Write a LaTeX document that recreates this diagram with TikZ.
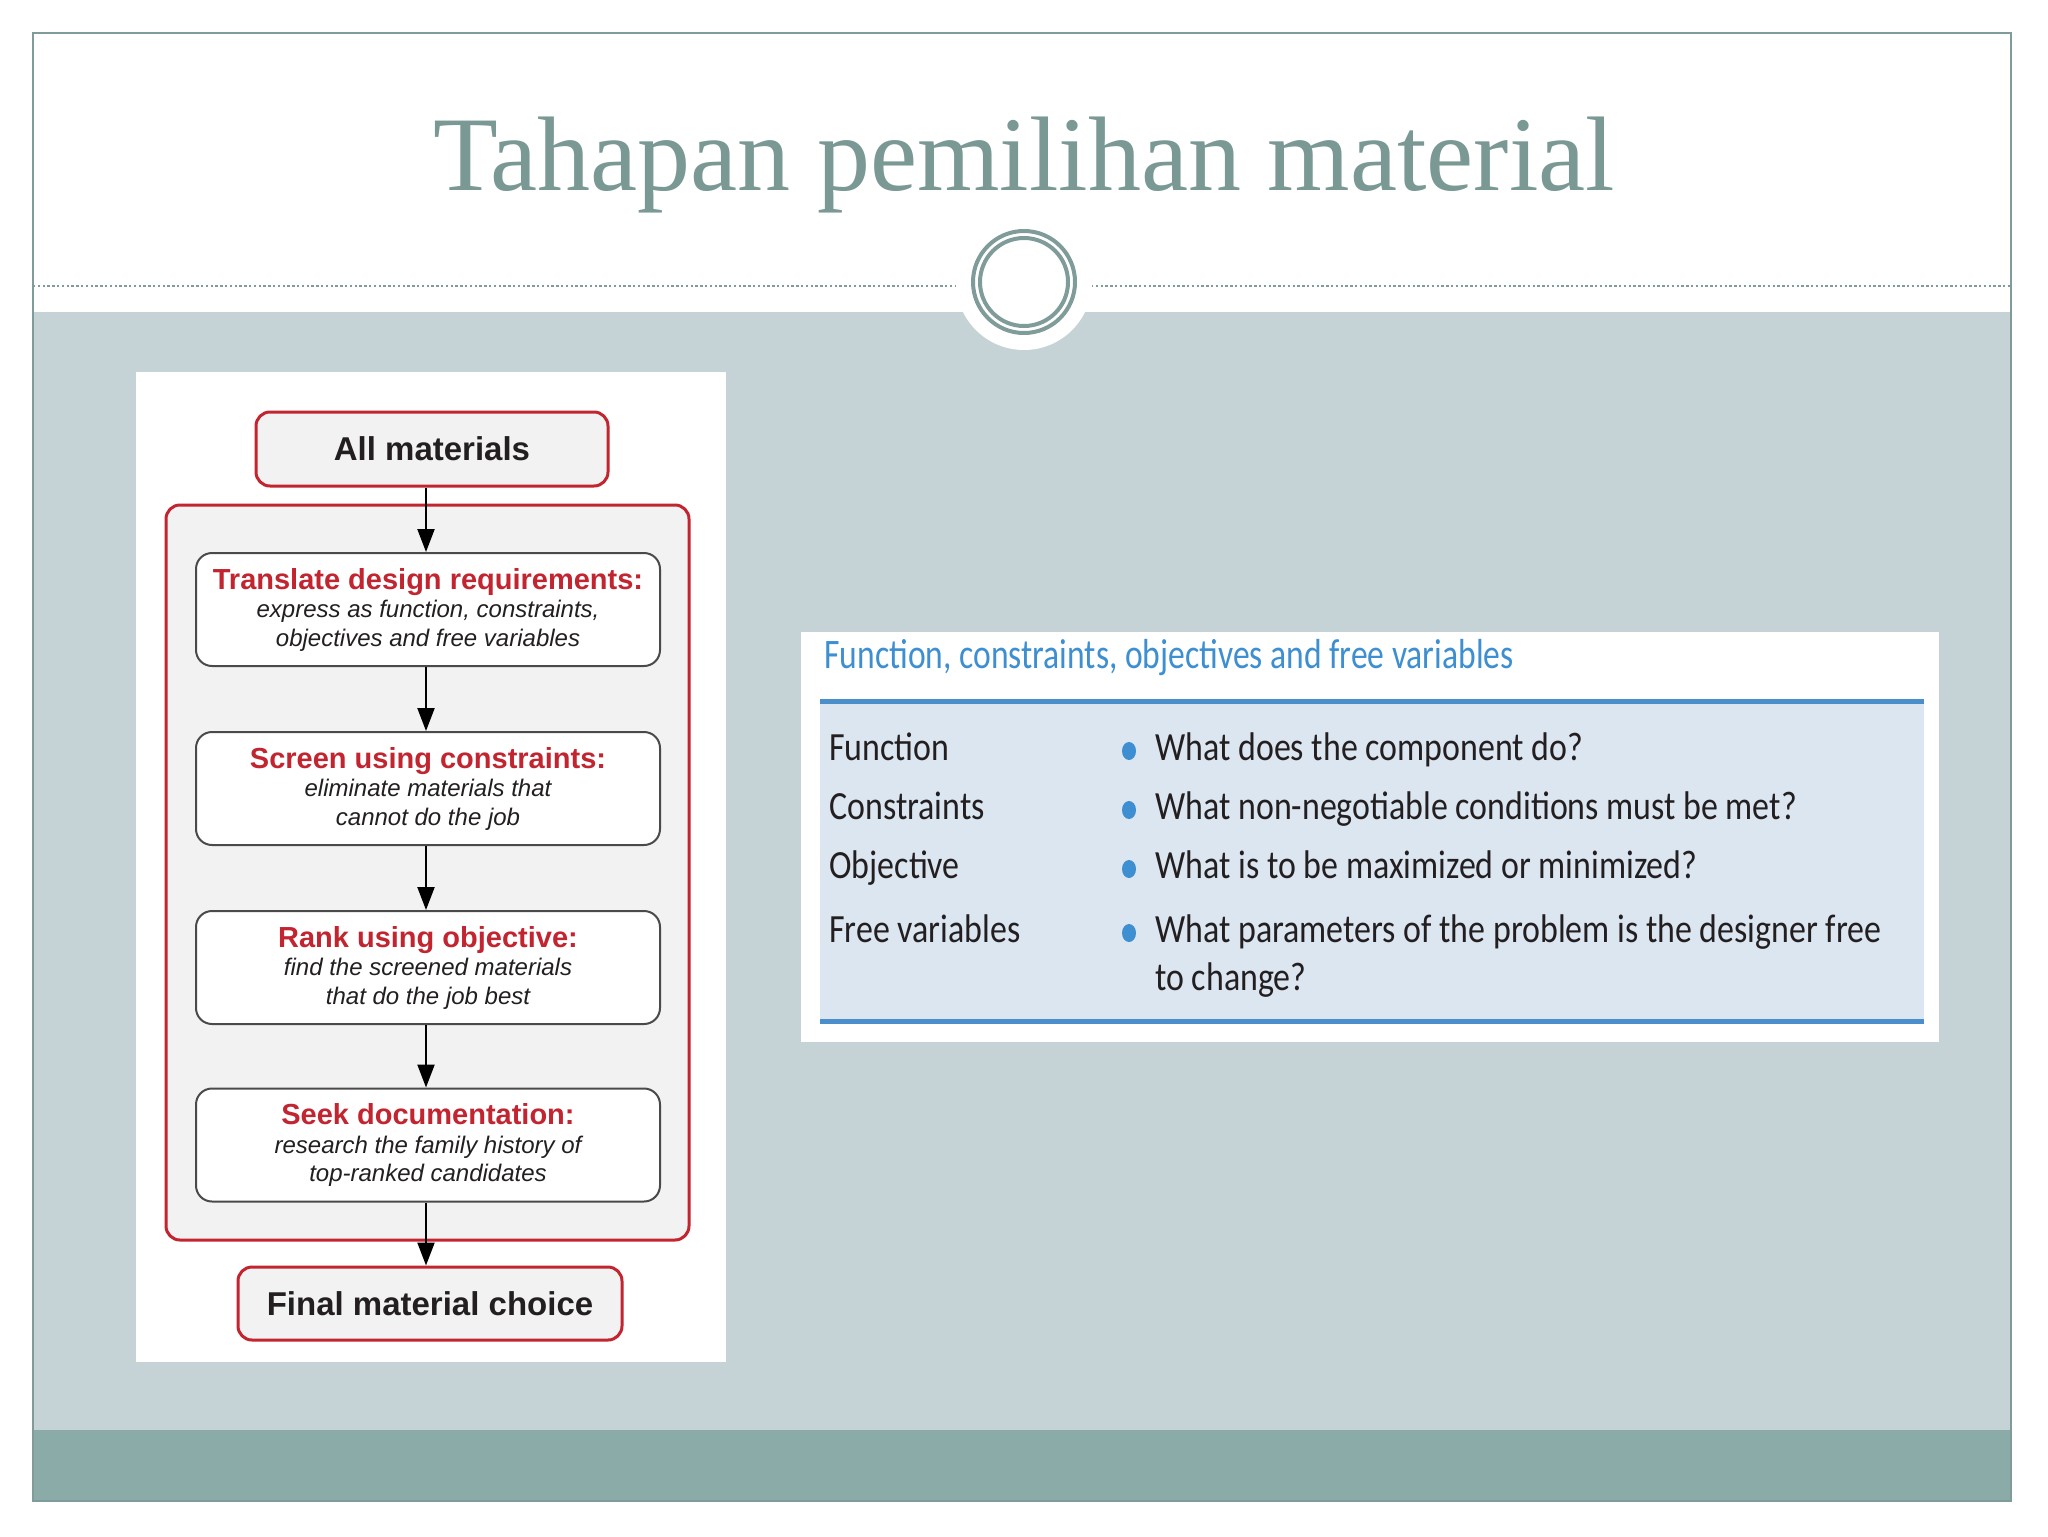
\documentclass[tikz,border=0pt]{standalone}
\usepackage{fontspec}
\setmainfont{Liberation Serif}
\newfontfamily\arialf{Liberation Sans}
\newfontfamily\tabf[FakeStretch=0.848]{Carlito}
\newfontfamily\tabtitlef[FakeStretch=0.80]{Carlito}
\usetikzlibrary{arrows.meta,shapes.geometric}
\definecolor{framec}{HTML}{7F9C9A}
\definecolor{titlec}{HTML}{7A9994}
\definecolor{bgc}{HTML}{C5D3D7}
\definecolor{footc}{HTML}{8BABA9}
\definecolor{redc}{HTML}{C22530}
\definecolor{boxgray}{HTML}{F2F2F2}
\definecolor{stepgray}{HTML}{4A4A4A}
\definecolor{tblue}{HTML}{3D8FD1}
\definecolor{tfill}{HTML}{DBE6F1}
\definecolor{rulec}{HTML}{4A8FCB}
\definecolor{textdark}{HTML}{231F20}
\tikzset{
  stepbox/.style={draw=stepgray, line width=1pt, fill=white, rounded corners=8pt,
    minimum width=232pt, minimum height=56.5pt, align=center, inner sep=0pt,
    font=\arialf\fontsize{12}{14.25}\selectfont\itshape, text=textdark},
  redbox/.style={draw=redc, line width=1.5pt, fill=boxgray, rounded corners=7pt,
    align=center, inner sep=0pt, font=\arialf\bfseries\fontsize{16.5}{19}\selectfont, text=textdark},
  flowarrow/.style={-{Triangle[length=11.5pt,width=8.5pt]}, line width=1.1pt, black},
  rowlabel/.style={anchor=base west, inner sep=0pt, font=\tabf\fontsize{20}{24}\selectfont, text=textdark},
  bulletdot/.style={ellipse, fill=tblue, minimum width=7pt, minimum height=9pt, inner sep=0pt},
}
\newcommand{\stephead}[1]{{\upshape\bfseries\fontsize{14.5}{14.25}\selectfont\color{redc}#1}}
\begin{document}
\begin{tikzpicture}[x=0.5pt,y=-0.5pt]
\useasboundingbox (0,0) rectangle (2048,1536);
\fill[white] (0,0) rectangle (2048,1536);
% slide background
\fill[bgc] (33,312) rectangle (2011,1430);
\fill[footc] (33,1430) rectangle (2011,1501);
\draw[framec, line width=1pt] (33,33) rectangle (2011,1501);
% header decoration
\draw[framec, line width=0.9pt, dash pattern=on 1.2pt off 1.2pt] (33,286) -- (957,286);
\draw[framec, line width=0.9pt, dash pattern=on 1.2pt off 1.2pt] (1091,286) -- (2011,286);
\fill[white] (1024,282) circle (34pt);
\draw[framec, line width=2pt] (1024,282) circle (25.5pt);
\draw[framec, line width=2pt] (1024,282) circle (22pt);
\node[anchor=base, inner sep=0pt, text=titlec, font=\fontsize{53}{62}\selectfont] (title) at (1024,190) {Tahapan pemilihan material};
% left panel
\fill[white] (136,372) rectangle (726,1362);
\filldraw[draw=redc, fill=boxgray, line width=1.5pt, rounded corners=7pt] (166,505) rectangle (689,1240);
\node[redbox, minimum width=176pt, minimum height=37pt] (allm) at (432,449) {All materials};
\node[stepbox] (b1) at (428,609.5) {\stephead{Translate design requirements:}\\ express as function, constraints,\\ objectives and free variables};
\node[stepbox] (b2) at (428,788.5) {\stephead{Screen using constraints:}\\ eliminate materials that\\ cannot do the job};
\node[stepbox] (b3) at (428,967.5) {\stephead{Rank using objective:}\\ find the screened materials\\ that do the job best};
\node[stepbox] (b4) at (428,1145) {\stephead{Seek documentation:}\\ research the family history of\\ top-ranked candidates};
\node[redbox, minimum width=192pt, minimum height=36.5pt] (final) at (430,1303.5) {Final material choice};
\draw[flowarrow] (allm.south -| 426,0) -- (b1.north -| 426,0);
\draw[flowarrow] (b1.south -| 426,0) -- (b2.north -| 426,0);
\draw[flowarrow] (b2.south -| 426,0) -- (b3.north -| 426,0);
\draw[flowarrow] (b3.south -| 426,0) -- (b4.north -| 426,0);
\draw[flowarrow] (b4.south -| 426,0) -- (final.north -| 426,0);
% right table
\fill[white] (801,632) rectangle (1939,1042);
\node[anchor=base west, inner sep=0pt, text=tblue, font=\tabtitlef\fontsize{21}{25}\selectfont] (ttitle) at (824,668) {Function, constraints, objectives and free variables};
\fill[tfill] (820,703) rectangle (1924,1020);
\draw[rulec, line width=2.5pt] (820,701.5) -- (1924,701.5);
\draw[rulec, line width=2.5pt] (820,1021) -- (1924,1021);
\node[rowlabel] (l1) at (829,760) {Function};
\node[rowlabel] (l2) at (829,819) {Constraints};
\node[rowlabel] (l3) at (829,878) {Objective};
\node[rowlabel] (l4) at (829,942) {Free variables};
\node[bulletdot] (d1) at (1129,751) {};
\node[bulletdot] (d2) at (1129,810) {};
\node[bulletdot] (d3) at (1129,869) {};
\node[bulletdot] (d4) at (1129,933) {};
\node[rowlabel] (q1) at (1155,760) {What does the component do?};
\node[rowlabel] (q2) at (1155,819) {What non-negotiable conditions must be met?};
\node[rowlabel] (q3) at (1155,878) {What is to be maximized or minimized?};
\node[rowlabel] (q4) at (1155,942) {What parameters of the problem is the designer free};
\node[rowlabel] (q4b) at (1155,990) {to change?};
\end{tikzpicture}
\end{document}
